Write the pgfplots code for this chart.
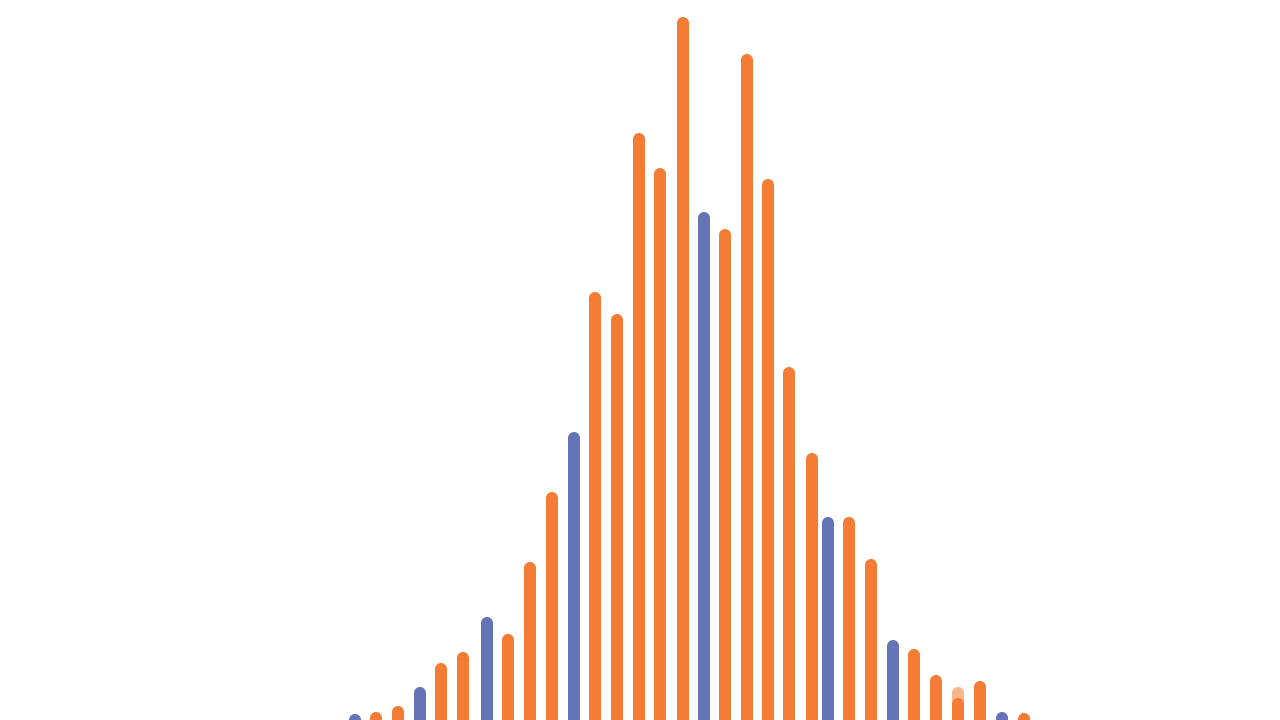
\documentclass[border=0pt]{standalone}
\usepackage{pgfplots}
\pgfplotsset{compat=1.18}
\definecolor{barorange}{HTML}{F57C35}
\definecolor{barblue}{HTML}{6474B4}
\definecolor{barlight}{HTML}{F9B48A}
\begin{document}
\begin{tikzpicture}
\begin{axis}[
  width=12.8cm, height=7.2cm, scale only axis,
  xmin=0, xmax=1280, ymin=0, ymax=720,
  hide axis, clip=true,
]
\addplot[ycomb, barlight, line width=1.2mm, line cap=round, mark=none] coordinates {
 (958,27)
};
\addplot[ycomb, barorange, line width=1.2mm, line cap=round, mark=none] coordinates {
 (376,2) (398,8) (441,51) (463,62) (508,80) (530,152) (552,222) (595,422)
 (617,400) (639,581) (660,546) (683,697) (725,485) (747,660) (768,535)
 (789,347) (812,261) (849,197) (871,155) (914,65) (936,39) (958,16)
 (980,33) (1024,1)
};
\addplot[ycomb, barblue, line width=1.2mm, line cap=round, mark=none] coordinates {
 (355,0) (420,27) (487,97) (574,282) (704,502) (828,197) (893,74) (1002,2)
};
\end{axis}
\pgfresetboundingbox
\path[use as bounding box] (current axis.south west) rectangle (current axis.north east);
\end{tikzpicture}
\end{document}
